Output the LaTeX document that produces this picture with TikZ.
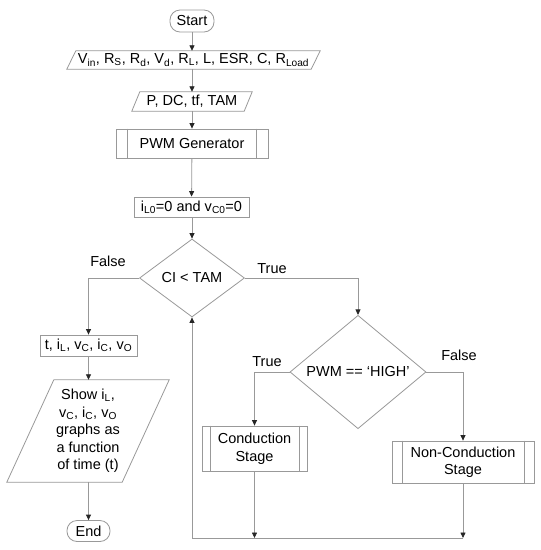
\documentclass[tikz,border=0pt]{standalone}
\usepackage{fontspec}
\setmainfont{Liberation Sans}
\usetikzlibrary{shapes.geometric,arrows.meta,calc}
\newcommand\myparagram[2]{\draw[draw=black!40,line width=0.8pt] ($(#1.north west)+(#2,0)$) -- (#1.north east) -- ($(#1.south east)-(#2,0)$) -- (#1.south west) -- cycle;}
\newcommand\mypredef[2]{\draw[draw=black!40,line width=0.8pt] ($(#1.north west)+(#2,0)$) -- ($(#1.south west)+(#2,0)$) ($(#1.north east)-(#2,0)$) -- ($(#1.south east)-(#2,0)$);}
\begin{document}
\begin{tikzpicture}[x=1pt,y=-1pt,
  every node/.style={font=\fontsize{14.5}{17.5}\selectfont},
  ln/.style={draw=black!40, line width=0.8pt},
  arr/.style={ln, -{Triangle[length=5.5pt,width=5pt,color=black!85,fill=black!85]}},
  box/.style={rectangle, draw=black!40, line width=0.8pt, inner sep=0pt, align=center},
  io/.style={rectangle, inner sep=0pt, align=center},
  term/.style={box, rounded corners=10pt},
  dec/.style={diamond, draw=black!40, line width=0.8pt, inner sep=0pt},
  lbl/.style={inner sep=0pt}]
\useasboundingbox[fill=white] (0,0) rectangle (541,550);

\node[term, minimum width=44pt, minimum height=22pt] (start) at (192,21) {Start};
\node[io, minimum width=253pt, minimum height=18pt] (p1) at (193.5,60) {V\textsubscript{in}, R\textsubscript{S}, R\textsubscript{d}, V\textsubscript{d}, R\textsubscript{L}, L, ESR, C, R\textsubscript{Load}};
\myparagram{p1}{9}
\node[io, minimum width=120pt, minimum height=19pt] (p2) at (192,101.5) {P, DC, tf, TAM};
\myparagram{p2}{8}
\node[box, minimum width=152pt, minimum height=29pt] (pwm) at (192,143.5) {PWM Generator};
\mypredef{pwm}{12}
\node[box, minimum width=115pt, minimum height=20pt] (init) at (191.5,207) {i\textsubscript{L0}=0 and v\textsubscript{C0}=0};
\node[dec, minimum width=105pt, minimum height=78pt] (d1) at (192,278) {CI < TAM};
\node[box, minimum width=97pt, minimum height=21pt] (out) at (88.5,345.5) {t, i\textsubscript{L}, v\textsubscript{C}, i\textsubscript{C}, v\textsubscript{O}};
\node[io, minimum width=162pt, minimum height=102pt] (show) at (88,431) {Show i\textsubscript{L},\\ v\textsubscript{C}, i\textsubscript{C}, v\textsubscript{O}\\ graphs as\\ a function\\ of time (t)};
\myparagram{show}{47}
\node[term, minimum width=43pt, minimum height=21pt] (end) at (88.5,531) {End};
\node[dec, minimum width=136pt, minimum height=77pt] (d2) at (358,372) {PWM == ‘HIGH’};
\node[box, minimum width=105pt, minimum height=45pt] (cond) at (254.5,448.5) {Conduction\\ Stage};
\mypredef{cond}{8.5}
\node[box, minimum width=142pt, minimum height=42pt] (ncond) at (463,462) {Non-Conduction\\ Stage};
\mypredef{ncond}{10.5}

\node[lbl] (lf1) at (108,261) {False};
\node[lbl] (lt1) at (272,269) {True};
\node[lbl] (lt2) at (267,362) {True};
\node[lbl] (lf2) at (459,355) {False};

\coordinate (bl) at (192,538);

\draw[arr] (start) -- (start|-p1.north);
\draw[arr] (p1.south-|p2) -- (p2.north);
\draw[arr] (p2) -- (pwm);
\draw[arr] (pwm) -- (init);
\draw[arr] (init.south-|d1) -- (d1.north);
\draw[arr] (d1.west) -| (out.north);
\draw[arr] (out) -- (out|-show.north);
\draw[arr] (show.south-|end) -- (end.north);
\draw[arr] (d1.east) -| (d2.north);
\draw[arr] (d2.west) -| (cond.north);
\draw[arr] (d2.east) -| (ncond.north);
\draw[arr] (cond.south) -- (cond.south|-bl);
\draw[arr] (ncond.south) -- (ncond.south|-bl);
\draw[arr] (ncond.south|-bl) -- (bl) -- (d1.south);
\end{tikzpicture}
\end{document}
